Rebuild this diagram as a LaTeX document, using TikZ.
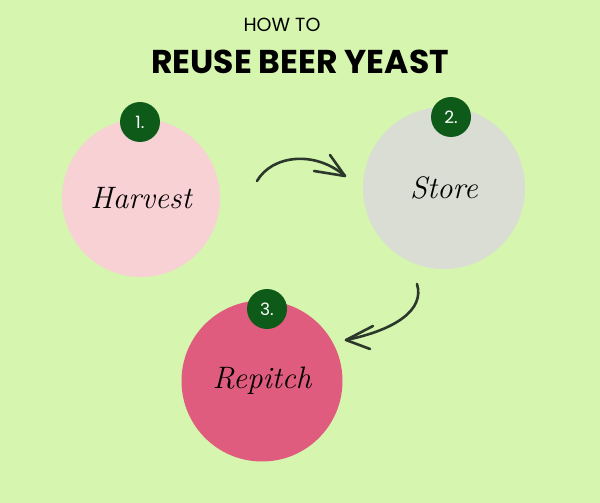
\documentclass[tikz,border=0pt]{standalone}
\usepackage{fontspec}
\setmainfont{Poppins}
\newfontfamily\handfont{Latin Modern Roman}
\definecolor{bg}{HTML}{D6F5AF}
\definecolor{pinkA}{HTML}{F8D1D5}
\definecolor{greyA}{HTML}{D9DDD4}
\definecolor{roseA}{HTML}{E05C7E}
\definecolor{badgeG}{HTML}{0E5A18}
\definecolor{pencil}{HTML}{2B382B}
\begin{document}
\begin{tikzpicture}[x=1pt,y=-1pt,
  stepcircle/.style={circle, minimum size=#1, inner sep=0pt, text=black,
     font=\handfont\itshape\fontsize{31}{31}\selectfont},
  badge/.style={circle, fill=badgeG, minimum size=40pt, inner sep=0pt, text=white,
     font=\fontsize{17}{17}\selectfont},
  pencilline/.style={draw=pencil, line width=2.6pt, line cap=round, line join=round}]
\fill[bg] (0,0) rectangle (600,503);
\useasboundingbox (0,0) rectangle (600,503);
\node[font=\fontsize{19}{19}\selectfont] (howto) at (282,25) {HOW TO};
\node[font=\bfseries\fontsize{33}{33}\selectfont] (title) at (300,62) {REUSE BEER YEAST};
\node[stepcircle=158pt, fill=pinkA] (harvest) at (141,198) {Harvest};
\node[stepcircle=162pt, fill=greyA] (store) at (444,188) {Store};
\node[stepcircle=161pt, fill=roseA] (repitch) at (262,381) {Repitch};
\node[badge] (b1) at (140,122) {1.};
\node[badge] (b2) at (451,117) {2.};
\node[badge] (b3) at (267,309) {3.};
% arrow 1
\coordinate (a1s) at (257,181);
\coordinate (a1t) at (345,176);
\coordinate (a1u) at (330,155);
\coordinate (a1l) at (314,171);
\draw[pencilline] (a1s) .. controls (272,155) and (315,150) .. (a1t);
\draw[pencilline] (a1u) -- (a1t) -- (a1l);
% arrow 2
\coordinate (a2s) at (417,284);
\coordinate (a2t) at (346,340);
\coordinate (a2u) at (373,326);
\coordinate (a2l) at (370,349);
\draw[pencilline] (a2s) .. controls (425,310) and (395,330) .. (a2t);
\draw[pencilline] (a2u) -- (a2t) -- (a2l);
\end{tikzpicture}
\end{document}
